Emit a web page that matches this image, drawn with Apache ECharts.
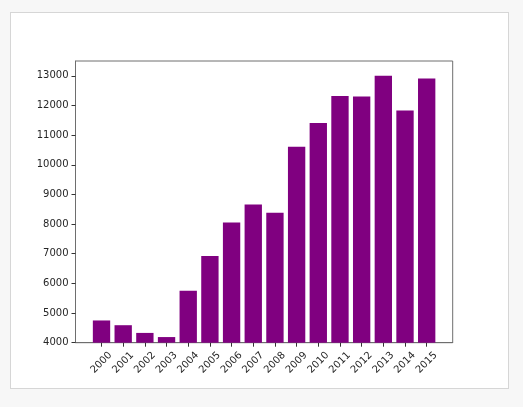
<!DOCTYPE html>
<html lang="en">
	<head>
		<meta charset="UTF-8">
		<title>bar demo</title>
		<style>
			html, body { margin: 0; padding: 0; background: #f7f7f7; }
			#panel { position: absolute; left: 10px; top: 12px; width: 497px; height: 375px; background: #fff; border: 1px solid #d6d6d6; }
			#main { position: absolute; left: 0; top: 0; width: 523px; height: 407px; }
		</style>
	</head>

	<body>
		<div id="panel"></div>
		<!-- chart -->
		<div id="main"></div>

		<script type="text/javascript" src="https://cdn.jsdelivr.net/npm/echarts@6/dist/echarts.min.js"></script>
		<script type="text/javascript">
			// data
			var years = ['2000', '2001', '2002', '2003', '2004', '2005', '2006', '2007',
				'2008', '2009', '2010', '2011', '2012', '2013', '2014', '2015'];
			var counts = [4750, 4590, 4330, 4190, 5750, 6920, 8050, 8660,
				8380, 10610, 11410, 12320, 12300, 13000, 11830, 12910];
			var yTicks = [4000, 5000, 6000, 7000, 8000, 9000, 10000, 11000, 12000, 13000];

			var positions = years.map(function (y, i) { return i; });
			var barData = counts.map(function (v, i) { return [i, v]; });

			var myChart = echarts.init(document.getElementById('main'));

			var labelStyle = {
				color: '#262626',
				fontFamily: 'DejaVu Sans',
				fontSize: 10
			};
			var frameLine = { color: '#6e6e6e', width: 1 };

			option = {
				backgroundColor: 'transparent',
				animation: false,
				grid: {
					left: 75.5,
					top: 61,
					right: 70.3,
					bottom: 64.3,
					show: true,
					borderColor: '#6e6e6e',
					borderWidth: 1,
					backgroundColor: '#fff'
				},
				xAxis: {
					type: 'value',
					min: -1.2,
					max: 16.2,
					splitLine: { show: false },
					axisLine: { show: true, onZero: false, lineStyle: frameLine },
					axisTick: {
						show: true,
						inside: false,
						length: 4,
						customValues: positions,
						lineStyle: { color: '#333' }
					},
					axisLabel: Object.assign({
						customValues: positions,
						rotate: 45,
						align: 'center',
						verticalAlign: 'middle',
						margin: 20,
						formatter: function (v) { return years[Math.round(v)]; }
					}, labelStyle)
				},
				yAxis: {
					type: 'value',
					min: 4000,
					max: 13500,
					splitLine: { show: false },
					axisLine: { show: true, onZero: false, lineStyle: frameLine },
					axisTick: {
						show: true,
						length: 4,
						customValues: yTicks,
						lineStyle: { color: '#333' }
					},
					axisLabel: Object.assign({
						customValues: yTicks,
						margin: 7,
						formatter: function (v) { return String(v); }
					}, labelStyle)
				},
				series: [
					{
						type: 'bar',
						data: barData,
						barWidth: '80%',
						itemStyle: { color: '#800080' }
					}
				]
			};

			myChart.setOption(option);
		</script>
	</body>
</html>
